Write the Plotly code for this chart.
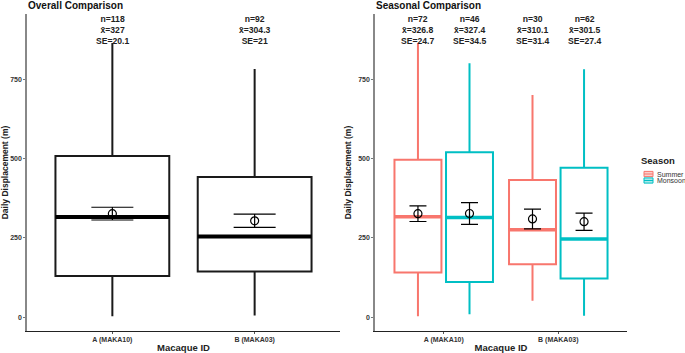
import plotly.graph_objects as go

# ---- data ----
ids = ["A (MAKA10)", "B (MAKA03)"]
# overall
ov_n = [118, 92]
ov_mean = [327, 304.3]
ov_se = [20.1, 21]
ov_q1 = [130, 144]
ov_med = [316, 255]
ov_q3 = [509, 443]
ov_lo = [3, 5]
ov_hi = [866, 784]
# seasonal
seasons = ["Summer", "Monsoon"]
se_colors = ["#F8766D", "#00BFC4"]
se_fills = ["rgba(248,118,109,0.35)", "rgba(0,191,196,0.35)"]
s_n = {"Summer": [72, 30], "Monsoon": [46, 62]}
s_mean = {"Summer": [326.8, 310.1], "Monsoon": [327.4, 301.5]}
s_se = {"Summer": [24.7, 31.4], "Monsoon": [34.5, 27.4]}
s_q1 = {"Summer": [141, 167], "Monsoon": [111, 122]}
s_med = {"Summer": [317, 276], "Monsoon": [315, 247]}
s_q3 = {"Summer": [497, 433], "Monsoon": [521, 472]}
s_lo = {"Summer": [3, 52], "Monsoon": [9, 4]}
s_hi = {"Summer": [866, 702], "Monsoon": [802, 783]}

FONT = "Liberation Sans, Arial, sans-serif"
FW, FH = 685, 353


def px(x):
    return x / FW


def py(y):
    return 1 - y / FH


xpos = [1, 2]
fig = go.Figure()

# ---- overall panel ----
W = 0.8
for i, x in enumerate(xpos):
    fig.add_trace(go.Box(x=[x], q1=[ov_q1[i]], median=[ov_med[i]], q3=[ov_q3[i]],
                         lowerfence=[ov_lo[i]], upperfence=[ov_hi[i]], width=W,
                         line=dict(color="#1a1a1a", width=2), fillcolor="rgba(255,255,255,0)",
                         whiskerwidth=0, boxpoints=False, showlegend=False, hoverinfo="skip",
                         xaxis="x", yaxis="y"))
    fig.add_trace(go.Scatter(x=[x - W / 2, x + W / 2], y=[ov_med[i]] * 2, mode="lines",
                             line=dict(color="#000000", width=4), showlegend=False,
                             xaxis="x", yaxis="y", hoverinfo="skip"))
fig.add_trace(go.Scatter(x=xpos, y=ov_mean, mode="markers",
                         marker=dict(symbol="circle-open", size=8, color="black", line=dict(width=1.2)),
                         error_y=dict(type="data", array=ov_se, color="black", thickness=1.2, width=21),
                         showlegend=False, xaxis="x", yaxis="y", hoverinfo="skip"))

# ---- seasonal panel ----
offs = {"Summer": -0.225, "Monsoon": 0.225}
SW = 0.41
for s, c in zip(seasons, se_colors):
    xs = [x + offs[s] for x in xpos]
    for i, x in enumerate(xs):
        fig.add_trace(go.Box(x=[x], q1=[s_q1[s][i]], median=[s_med[s][i]], q3=[s_q3[s][i]],
                             lowerfence=[s_lo[s][i]], upperfence=[s_hi[s][i]], width=SW,
                             line=dict(color=c, width=2), fillcolor="rgba(255,255,255,0)",
                             whiskerwidth=0, boxpoints=False, name=s, legendgroup=s,
                             showlegend=False, hoverinfo="skip", xaxis="x2", yaxis="y2"))
        fig.add_trace(go.Scatter(x=[x - SW / 2, x + SW / 2], y=[s_med[s][i]] * 2, mode="lines",
                                 line=dict(color=c, width=3.5), showlegend=False,
                                 xaxis="x2", yaxis="y2", hoverinfo="skip"))
    fig.add_trace(go.Scatter(x=xs, y=s_mean[s], mode="markers",
                             marker=dict(symbol="circle-open", size=8, color="black", line=dict(width=1.2)),
                             error_y=dict(type="data", array=s_se[s], color="black", thickness=1.2, width=8.5),
                             showlegend=False, xaxis="x2", yaxis="y2", hoverinfo="skip"))

# ---- annotations ----
AF = dict(family=FONT, size=8.6, color="#222", weight="bold")
ann = []
for i, x in enumerate(xpos):
    ann.append(dict(x=x, xref="x", y=py(12), yref="paper", yanchor="top", showarrow=False,
                    text=f"n={ov_n[i]}<br>x̄={ov_mean[i]}<br>SE={ov_se[i]}",
                    font=AF, align="center"))
for s in seasons:
    for i, x in enumerate(xpos):
        ann.append(dict(x=x + offs[s], xref="x2", y=py(12), yref="paper", yanchor="top", showarrow=False,
                        text=f"n={s_n[s][i]}<br>x̄={s_mean[s][i]}<br>SE={s_se[s][i]}",
                        font=AF, align="center"))
ann.append(dict(x=px(26), y=py(5.5), xref="paper", yref="paper", xanchor="left", yanchor="middle",
                showarrow=False, text="<b>Overall Comparison</b>", font=dict(family=FONT, size=10, color="#111")))
ann.append(dict(x=px(374), y=py(5.5), xref="paper", yref="paper", xanchor="left", yanchor="middle",
                showarrow=False, text="<b>Seasonal Comparison</b>", font=dict(family=FONT, size=10, color="#111")))

# ---- legend (keys drawn as small boxes beside the season names) ----
ann.append(dict(x=px(639), y=py(161), xref="paper", yref="paper", xanchor="left", yanchor="middle",
                showarrow=False, text="<b>Season</b>", font=dict(family=FONT, size=9.5, color="#222")))
shapes = []
key_y = [174, 180.5]
for s, c, f, ky in zip(seasons, se_colors, se_fills, key_y):
    shapes.append(dict(type="rect", xref="paper", yref="paper", x0=px(644), x1=px(653),
                       y0=py(ky - 2.6), y1=py(ky + 2.6), line=dict(color=c, width=1), fillcolor=f))
    shapes.append(dict(type="line", xref="paper", yref="paper", x0=px(644), x1=px(653),
                       y0=py(ky), y1=py(ky), line=dict(color=c, width=1)))
    ann.append(dict(x=px(655), y=py(ky), xref="paper", yref="paper", xanchor="left", yanchor="middle",
                    showarrow=False, text=s, font=dict(family=FONT, size=7, color="#333")))

xcommon = dict(range=[0.4, 2.6], tickvals=xpos, ticktext=ids, automargin=False,
               showline=True, linecolor="#222", linewidth=1, ticks="outside", ticklen=2,
               tickcolor="#555", showgrid=False, zeroline=False,
               tickfont=dict(family=FONT, size=7, color="#333", weight="bold"))
ycommon = dict(range=[-44, 958], tickvals=[0, 250, 500, 750], showline=True, linecolor="#888",
               linewidth=1.5, ticks="outside", ticklen=2, tickcolor="#777", showgrid=False, zeroline=False,
               automargin=False,
               tickfont=dict(family=FONT, size=7, color="#333", weight="bold"))

fig.update_layout(
    width=FW, height=FH, margin=dict(l=0, r=0, t=0, b=0, autoexpand=False),
    paper_bgcolor="white", plot_bgcolor="white",
    font=dict(family=FONT),
    showlegend=False,
    xaxis=dict(domain=[px(27), px(340)], anchor="y",
               title=dict(text="<b>Macaque ID</b>", font=dict(size=9.5, color="#222"), standoff=2), **xcommon),
    yaxis=dict(domain=[py(331), py(14)], anchor="x",
               title=dict(text="<b>Daily Displacement (m)</b>", font=dict(size=8.5, color="#222"), standoff=5),
               **ycommon),
    xaxis2=dict(domain=[px(375), px(627)], anchor="y2",
                title=dict(text="<b>Macaque ID</b>", font=dict(size=9.5, color="#222"), standoff=2), **xcommon),
    yaxis2=dict(domain=[py(331), py(14)], anchor="x2",
                title=dict(text="<b>Daily Displacement (m)</b>", font=dict(size=8.5, color="#222"), standoff=5),
                **ycommon),
    boxmode="overlay",
    annotations=ann,
    shapes=shapes,
)

# remove the browser's default 8px page margin so the 685x353 figure fills the window
fig.write_html("out.html", config={"displayModeBar": False},
               post_script="document.body.style.margin='0';document.documentElement.style.overflow='hidden';")
